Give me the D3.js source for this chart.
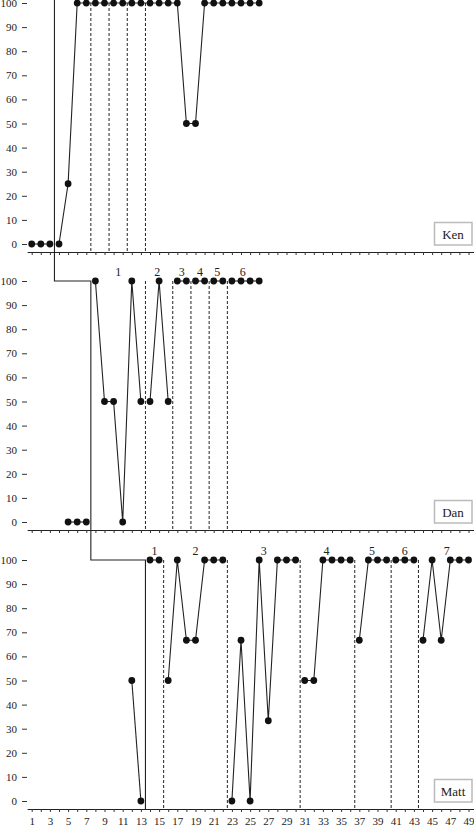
<!DOCTYPE html>
<html>
<head>
<meta charset="utf-8">
<script src="https://cdn.jsdelivr.net/npm/d3@7"></script>
<style>
  body { margin: 0; background: #fff; }
  svg { display: block; }
  svg text { font-family: "Liberation Serif", "DejaVu Serif", serif; }
</style>
</head>
<body>
<div id="chart"></div>
<script>
// participants, top to bottom
const names = ['Ken', 'Dan', 'Matt'];

// first session of each series and the percent values from there on
const kenStart = 1;
const kenValues = [0, 0, 0, 0, 25, 100, 100, 100, 100, 100, 100, 100, 100, 100, 100, 100, 100, 50, 50, 100, 100, 100, 100, 100, 100, 100];
const danStart = 5;
const danValues = [0, 0, 0, 100, 50, 50, 0, 100, 50, 50, 100, 50, 100, 100, 100, 100, 100, 100, 100, 100, 100, 100];
const mattStart = 12;
const mattValues = [50, 0, 100, 100, 50, 100, 66.7, 66.7, 100, 100, 100, 0, 66.7, 0, 100, 33.3, 100, 100, 100, 50, 50, 100, 100, 100, 100, 66.7, 100, 100, 100, 100, 100, 100, 66.7, 100, 66.7, 100, 100, 100];

// solid phase change (baseline -> intervention) per participant
const phaseChange = [3.5, 7.5, 13.5];

// dashed criterion-change lines
const kenDashed = [7.5, 9.5, 11.5, 13.5];
const danDashed = [13.5, 16.5, 18.5, 20.5, 22.5];
const mattDashed = [15.5, 22.5, 30.5, 36.5, 40.5, 43.5];

// sub-phase numbers above each panel (Ken's are off the top of the picture)
const danPhaseLabels = ['1', '2', '3', '4', '5', '6'];
const danPhaseAt = [10.5, 14.8, 17.5, 19.5, 21.4, 24.2];
const mattPhaseLabels = ['1', '2', '3', '4', '5', '6', '7'];
const mattPhaseAt = [14.5, 19, 26.5, 33.4, 38.4, 42, 46.6];

// where line segments break (points are not joined across these)
const kenBreaks = [3.5];
const danBreaks = [7.5, 13.5, 16.5, 18.5, 20.5, 22.5];
const mattBreaks = [13.5, 15.5, 22.5, 30.5, 36.5, 40.5, 43.5];

const yTicks = [0, 10, 20, 30, 40, 50, 60, 70, 80, 90, 100];
const xTickLabels = [1, 3, 5, 7, 9, 11, 13, 15, 17, 19, 21, 23, 25, 27, 29, 31, 33, 35, 37, 39, 41, 43, 45, 47, 49];
const sessions = d3.range(1, 51);

const width = 474, height = 835;
const panelTop = [3, 281, 560];
const plotH = 241;
const axisGap = 8;
const serif = '"Liberation Serif", "DejaVu Serif", serif';

const svg = d3.select('#chart').append('svg')
    .attr('width', width)
    .attr('height', height);

const x = d3.scaleLinear().domain([0.5, 50.5]).range([27.15, 27.15 + 50 * 9.1]);

const panels = [
    { start: kenStart, values: kenValues, dashed: kenDashed, breaks: kenBreaks, labels: [], labelAt: [] },
    { start: danStart, values: danValues, dashed: danDashed, breaks: danBreaks, labels: danPhaseLabels, labelAt: danPhaseAt },
    { start: mattStart, values: mattValues, dashed: mattDashed, breaks: mattBreaks, labels: mattPhaseLabels, labelAt: mattPhaseAt }
];

const line = d3.line().x(d => x(d[0])).y(d => d[2]);

panels.forEach((p, i) => {
    const top = panelTop[i];
    const y = d3.scaleLinear().domain([0, 100]).range([top + plotH, top]);
    const axisY = y(0) + axisGap;
    const g = svg.append('g');

    // y axis: ticks + labels only, no spine
    const yAxis = g.append('g')
        .attr('transform', 'translate(27,0)')
        .call(d3.axisLeft(y).tickValues(yTicks).tickSize(5).tickPadding(5).tickSizeOuter(0));
    yAxis.attr('font-family', serif).attr('font-size', 11);
    yAxis.select('.domain').remove();
    yAxis.selectAll('text').style('font-family', serif).attr('fill', '#222');
    yAxis.selectAll('line').attr('stroke', '#333');

    // x axis
    const xAxis = g.append('g')
        .attr('transform', `translate(0,${axisY})`)
        .call(d3.axisBottom(x).tickValues(sessions).tickSize(3).tickPadding(5).tickSizeOuter(0)
            .tickFormat(d => (i === 2 && xTickLabels.includes(d)) ? d : ''));
    xAxis.attr('font-family', serif).attr('font-size', 11);
    xAxis.select('.domain').attr('stroke', '#222');
    xAxis.selectAll('line').attr('stroke', '#333');
    xAxis.selectAll('text').style('font-family', serif).attr('fill', '#222');

    // dashed criterion lines
    g.selectAll('.dash')
        .data(p.dashed)
        .join('line')
            .attr('x1', d => x(d)).attr('x2', d => x(d))
            .attr('y1', y(100)).attr('y2', axisY)
            .attr('stroke', '#222')
            .attr('stroke-width', 1)
            .attr('stroke-dasharray', '3,2');

    // phase numbers
    g.selectAll('.phase')
        .data(p.labels)
        .join('text')
            .attr('x', (d, k) => x(p.labelAt[k]))
            .attr('y', y(100) - 5)
            .attr('text-anchor', 'middle')
            .attr('font-size', 12)
            .attr('fill', '#222')
            .text(d => d);

    // data split into segments at the breaks
    const pts = p.values.map((v, k) => [p.start + k, v, y(v)]);
    const edges = [-Infinity].concat(p.breaks, [Infinity]);
    const segs = [];
    for (let k = 0; k < edges.length - 1; k++) {
        const s = pts.filter(d => d[0] > edges[k] && d[0] < edges[k + 1]);
        if (s.length > 1) segs.push(s);
    }
    g.selectAll('.seg')
        .data(segs)
        .join('path')
            .attr('d', line)
            .attr('fill', 'none')
            .attr('stroke', '#222')
            .attr('stroke-width', 1.1);

    g.selectAll('.dot')
        .data(pts)
        .join('circle')
            .attr('cx', d => x(d[0]))
            .attr('cy', d => d[2])
            .attr('r', 3.4)
            .attr('fill', '#111');

    // name box
    g.append('rect')
        .attr('x', 434.5).attr('y', y(0) - 21.5)
        .attr('width', 37.5).attr('height', 22.5)
        .attr('fill', '#fff')
        .attr('stroke', '#bbb')
        .attr('stroke-width', 1.5);
    g.append('text')
        .attr('x', 453).attr('y', y(0) - 5.5)
        .attr('text-anchor', 'middle')
        .attr('font-size', 13)
        .attr('fill', '#222')
        .text(names[i]);
});

// stepped phase-change line running through all three panels
const stepY = [panelTop[0] - 10, panelTop[1], panelTop[2], panelTop[2] + plotH + axisGap];
const stepPts = [
    [phaseChange[0], stepY[0]],
    [phaseChange[0], stepY[1]],
    [phaseChange[1], stepY[1]],
    [phaseChange[1], stepY[2]],
    [phaseChange[2], stepY[2]],
    [phaseChange[2], stepY[3]]
];
svg.append('path')
    .attr('d', d3.line().x(d => x(d[0])).y(d => d[1])(stepPts))
    .attr('fill', 'none')
    .attr('stroke', '#222')
    .attr('stroke-width', 1.1);
</script>
</body>
</html>
